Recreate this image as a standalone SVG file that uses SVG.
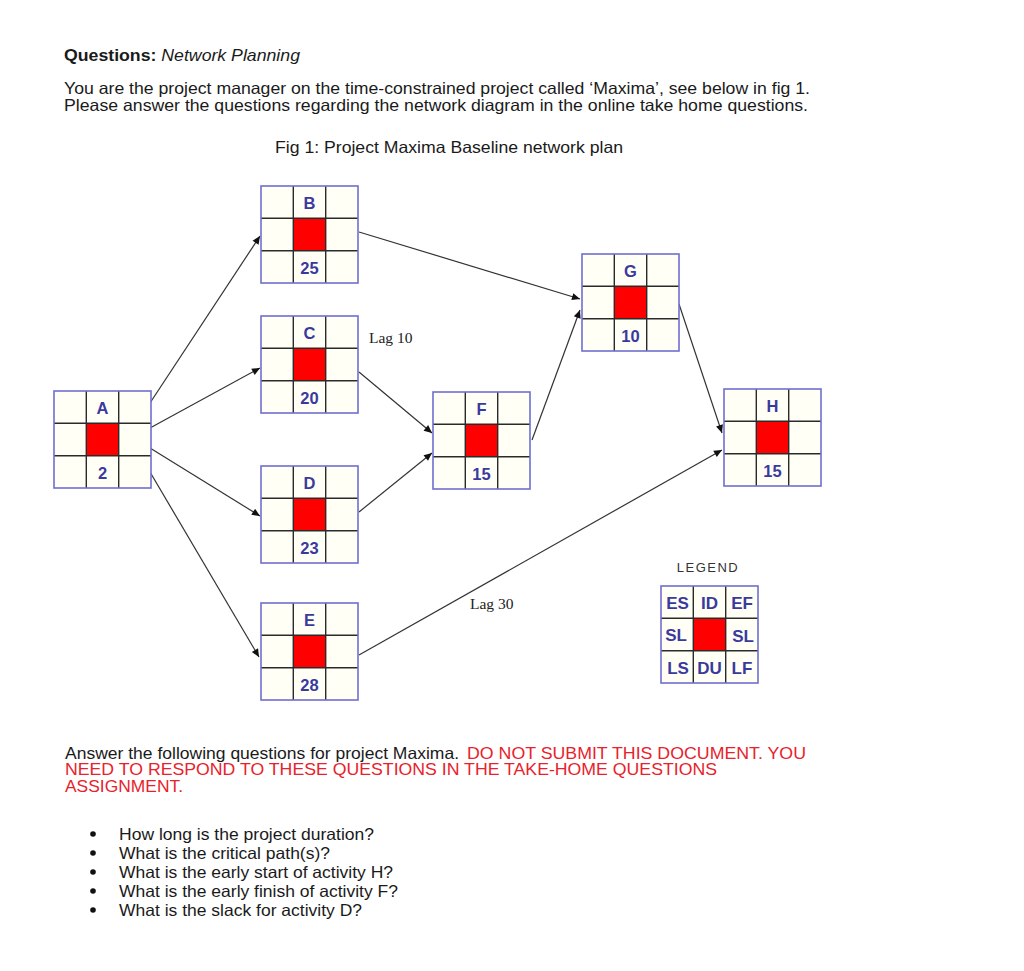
<svg xmlns="http://www.w3.org/2000/svg" xmlns:xlink="http://www.w3.org/1999/xlink" width="1024" height="971" viewBox="0 0 1024 971">
<style>
.body{font-family:"Liberation Sans",Arial,sans-serif;font-size:16.5px;fill:#1a1a1a}
.red{fill:#e8222c}
.lbl{font-family:"Liberation Sans",Arial,sans-serif;font-size:16.5px;font-weight:bold;fill:#3a3a9e;text-anchor:middle}
.lg{font-size:17px}
.lag{font-family:"Liberation Serif","Times New Roman",serif;font-size:15.5px;fill:#222}
.conn line{stroke:#333;stroke-width:1.2;fill:none;marker-end:url(#arr)}
.cell{fill:#fffff6}
.red-sq{fill:#ff0000}
.grid{stroke:#2a2a2a;stroke-width:1.4;fill:none}
.frame{stroke:#6f6fd0;stroke-width:1.6;fill:none}
</style>
<defs>
<marker id="arr" viewBox="0 0 10 10" refX="10" refY="5" markerWidth="11" markerHeight="8" markerUnits="userSpaceOnUse" orient="auto">
<path d="M0,0.5 L10,5 L0,9.5 z" fill="#111"/>
</marker>
<g id="box">
<rect class="cell" x="0" y="0" width="97" height="97"/>
<rect class="red-sq" x="32.3" y="32.3" width="32.4" height="32.4"/>
<path class="grid" d="M32.3,0V97M64.7,0V97M0,32.3H97M0,64.7H97"/>
<rect class="frame" x="0" y="0" width="97" height="97"/>
</g>
</defs>
<rect width="1024" height="971" fill="#ffffff"/>

<text class="body" x="64" y="61" textLength="236" lengthAdjust="spacingAndGlyphs"><tspan font-weight="bold">Questions:</tspan> <tspan font-style="italic">Network Planning</tspan></text>
<text class="body" x="64" y="94" textLength="746" lengthAdjust="spacingAndGlyphs">You are the project manager on the time-constrained project called ‘Maxima’, see below in fig 1.</text>
<text class="body" x="64" y="111" textLength="744" lengthAdjust="spacingAndGlyphs">Please answer the questions regarding the network diagram in the online take home questions.</text>
<text class="body" x="275" y="153" textLength="348" lengthAdjust="spacingAndGlyphs">Fig 1: Project Maxima Baseline network plan</text>

<g class="conn" id="connectors">
<line x1="150" y1="403" x2="260" y2="236"/>
<line x1="150" y1="428" x2="260" y2="368"/>
<line x1="150" y1="448" x2="260" y2="516"/>
<line x1="150" y1="472" x2="259" y2="657"/>
<line x1="359" y1="232" x2="580" y2="299"/>
<line x1="359" y1="372" x2="432" y2="433"/>
<line x1="359" y1="512" x2="432" y2="453"/>
<line x1="532" y1="440" x2="580" y2="310"/>
<line x1="679" y1="304" x2="722" y2="433"/>
<line x1="359" y1="655" x2="722" y2="450"/>
</g>
<text class="lag" x="369" y="343">Lag 10</text>
<text class="lag" x="470" y="609">Lag 30</text>

<g id="node-A" transform="translate(54,391)"><use xlink:href="#box"/><text class="lbl" x="48.5" y="22.5">A</text><text class="lbl" x="48.5" y="87.5">2</text></g>
<g id="node-B" transform="translate(261,186)"><use xlink:href="#box"/><text class="lbl" x="48.5" y="22.5">B</text><text class="lbl" x="48.5" y="87.5">25</text></g>
<g id="node-C" transform="translate(261,316)"><use xlink:href="#box"/><text class="lbl" x="48.5" y="22.5">C</text><text class="lbl" x="48.5" y="87.5">20</text></g>
<g id="node-D" transform="translate(261,466)"><use xlink:href="#box"/><text class="lbl" x="48.5" y="22.5">D</text><text class="lbl" x="48.5" y="87.5">23</text></g>
<g id="node-E" transform="translate(261,603)"><use xlink:href="#box"/><text class="lbl" x="48.5" y="22.5">E</text><text class="lbl" x="48.5" y="87.5">28</text></g>
<g id="node-F" transform="translate(433,392)"><use xlink:href="#box"/><text class="lbl" x="48.5" y="22.5">F</text><text class="lbl" x="48.5" y="87.5">15</text></g>
<g id="node-G" transform="translate(582,254)"><use xlink:href="#box"/><text class="lbl" x="48.5" y="22.5">G</text><text class="lbl" x="48.5" y="87.5">10</text></g>
<g id="node-H" transform="translate(724,389)"><use xlink:href="#box"/><text class="lbl" x="48.5" y="22.5">H</text><text class="lbl" x="48.5" y="87.5">15</text></g>

<g id="legend">
<text x="708" y="572" font-family="'Liberation Sans',Arial,sans-serif" font-size="13" letter-spacing="1.5" fill="#333" text-anchor="middle">LEGEND</text>
<g transform="translate(661,586)"><use xlink:href="#box"/>
<text class="lbl lg" x="16.5" y="23">ES</text><text class="lbl lg" x="48.5" y="23">ID</text><text class="lbl lg" x="81" y="23">EF</text>
<text class="lbl lg" x="15" y="55">SL</text><text class="lbl lg" x="82" y="56">SL</text>
<text class="lbl lg" x="17" y="88">LS</text><text class="lbl lg" x="48.5" y="88">DU</text><text class="lbl lg" x="81" y="88">LF</text>
</g>
</g>

<text class="body" x="65" y="759" textLength="394" lengthAdjust="spacingAndGlyphs">Answer the following questions for project Maxima.</text>
<text class="body red" x="467" y="759" textLength="339" lengthAdjust="spacingAndGlyphs">DO NOT SUBMIT THIS DOCUMENT. YOU</text>
<text class="body red" x="65" y="775" textLength="652" lengthAdjust="spacingAndGlyphs" font-size="15.5">NEED TO RESPOND TO THESE QUESTIONS IN THE TAKE-HOME QUESTIONS</text>
<text class="body red" x="65" y="792" textLength="118" lengthAdjust="spacingAndGlyphs" font-size="15.5">ASSIGNMENT.</text>

<g fill="#111">
<circle cx="93" cy="834" r="2.8"/>
<circle cx="93" cy="853" r="2.8"/>
<circle cx="93" cy="872" r="2.8"/>
<circle cx="93" cy="891" r="2.8"/>
<circle cx="93" cy="910" r="2.8"/>
</g>
<text class="body" x="119" y="840" textLength="255" lengthAdjust="spacingAndGlyphs">How long is the project duration?</text>
<text class="body" x="119" y="859" textLength="211" lengthAdjust="spacingAndGlyphs">What is the critical path(s)?</text>
<text class="body" x="119" y="878" textLength="274" lengthAdjust="spacingAndGlyphs">What is the early start of activity H?</text>
<text class="body" x="119" y="897" textLength="279" lengthAdjust="spacingAndGlyphs">What is the early finish of activity F?</text>
<text class="body" x="119" y="916" textLength="243" lengthAdjust="spacingAndGlyphs">What is the slack for activity D?</text>
</svg>
